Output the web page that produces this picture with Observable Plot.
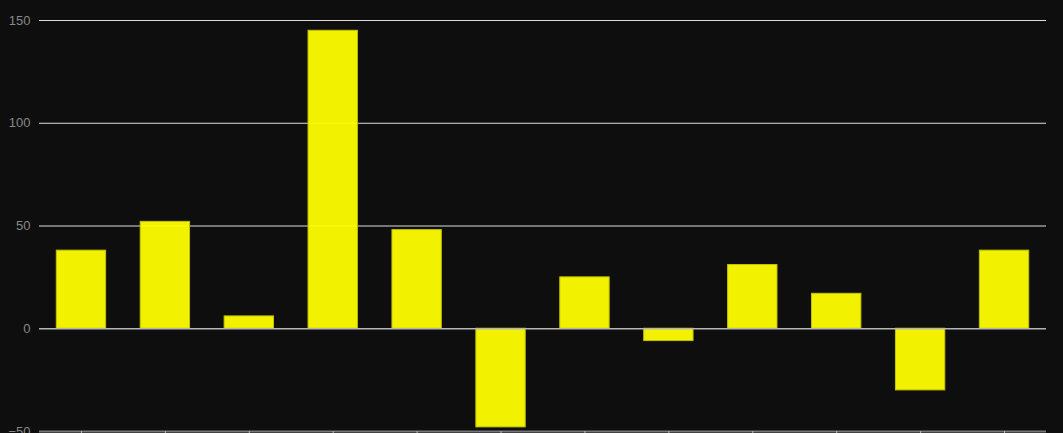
<!DOCTYPE html>
<html>
<head>
<meta charset="utf-8">
<script src="https://cdn.jsdelivr.net/npm/d3@7"></script>
<script src="https://cdn.jsdelivr.net/npm/@observablehq/plot@0.6"></script>
<style>
  html, body { margin: 0; padding: 0; background: #0e0e0e; overflow: hidden; }
  #chart svg { display: block; }
</style>
</head>
<body>
<div id="chart"></div>
<script>
const categories = ["Jan", "Feb", "Mar", "Apr", "May", "Jun", "Jul", "Aug", "Sep", "Oct", "Nov", "Dec"];
const values = [38, 52, 6, 145, 48, -48, 25, -6, 31, 17, -30, 38];
const yTicks = [-50, 0, 50, 100, 150];
const gridTicks = [50, 100, 150];

const data = categories.map((c, i) => ({category: c, value: values[i]}));

const chart = Plot.plot({
  width: 1063,
  height: 461,
  marginTop: 20,
  marginBottom: 30,
  marginLeft: 39,
  marginRight: 17,
  style: {background: "#0e0e0e", color: "#888", fontFamily: "Liberation Sans, Arial, sans-serif", fontSize: "13px"},
  x: {domain: categories, paddingInner: 0.4, paddingOuter: 0.2, round: false, label: null},
  y: {domain: [-50, 150], label: null},
  marks: [
    Plot.ruleY(gridTicks, {stroke: "#dddddd", strokeWidth: 1}),
    Plot.barY(data, {x: "category", y: "value", fill: "yellow", fillOpacity: 0.95, stroke: "#c4c400", strokeWidth: 1, insetLeft: 0.5, insetRight: 0.5}),
    Plot.ruleY([0], {stroke: "#b5b5b5", strokeWidth: 1.5}),
    Plot.axisY({ticks: yTicks, tickSize: 0, tickPadding: 9, fill: "#888", fontSize: 13}),
    Plot.ruleY([-50], {stroke: "#777", strokeWidth: 2}),
    Plot.axisX({tickSize: 5, stroke: "#bbb", tickFormat: () => ""})
  ]
});
document.getElementById("chart").appendChild(chart);
</script>
</body>
</html>
